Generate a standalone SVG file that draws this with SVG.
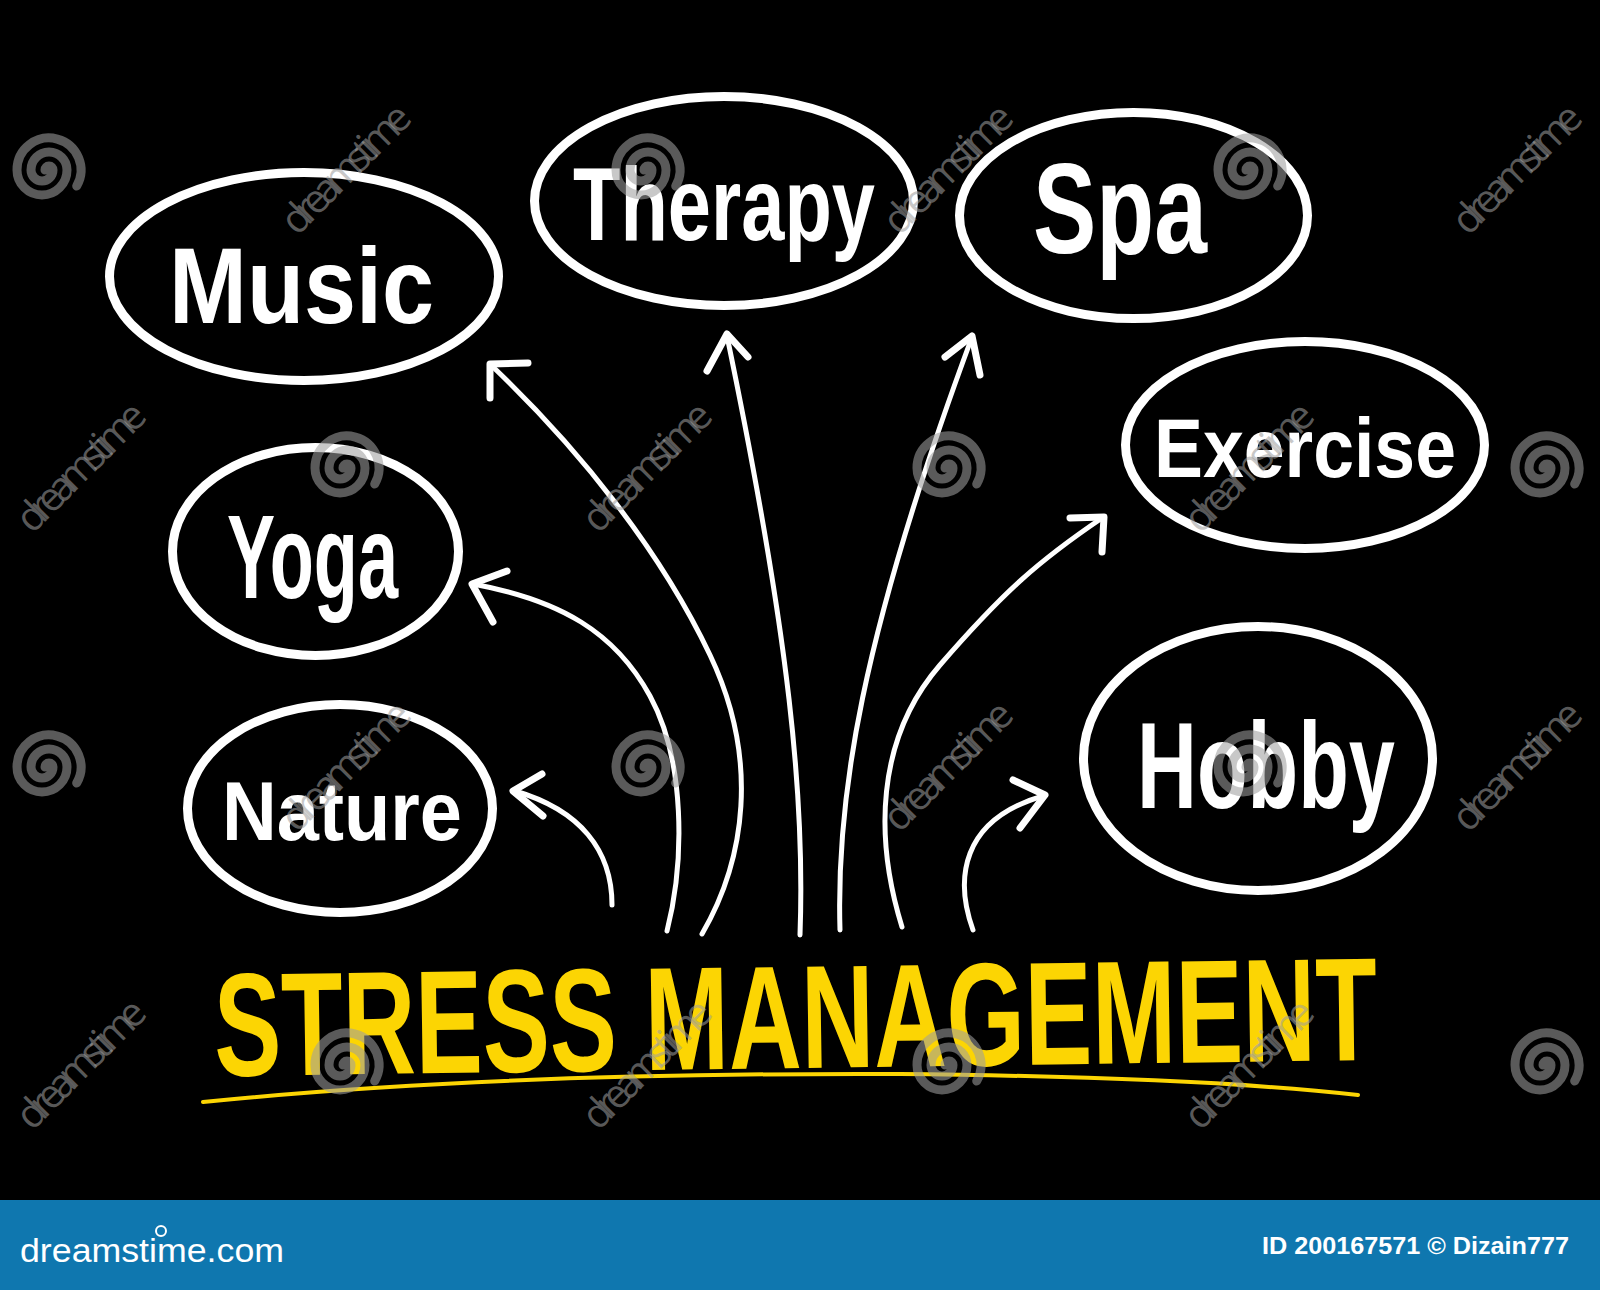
<svg xmlns="http://www.w3.org/2000/svg" xmlns:xlink="http://www.w3.org/1999/xlink" width="1600" height="1290" viewBox="0 0 1600 1290">
  <defs>
    <style>
      .oval { fill: none; stroke: #ffffff; stroke-width: 9; }
      .lbl { fill: #ffffff; font-family: "Liberation Sans", "DejaVu Sans", sans-serif; font-weight: 700; }
      .shaft { fill: none; stroke: #ffffff; stroke-width: 5; stroke-linecap: round; stroke-linejoin: round; }
      .head { fill: none; stroke: #ffffff; stroke-width: 7; stroke-linecap: round; stroke-linejoin: round; }
      .wm { fill: #9e9e9e; fill-opacity: 0.57; font-family: "Open Sans", "DejaVu Sans", sans-serif; font-size: 40px; }
      .wmsp { fill: none; stroke: #9e9e9e; stroke-opacity: 0.57; stroke-width: 9; stroke-linecap: round; }
      .title { fill: #fcd503; font-family: "Liberation Sans", "DejaVu Sans", sans-serif; font-weight: 700; }
      .foot { fill: #ffffff; font-family: "Liberation Sans", "DejaVu Sans", sans-serif; }
    </style>
    <symbol id="spiral" viewBox="-40 -40 80 80" overflow="visible">
      <path d="M 27.7 16 A 32 32 0 1 0 -32 0 A 25 25 0 0 0 18 0 A 18 18 0 0 0 -18 0 A 11 11 0 0 0 4 0 A 4 4 0 0 0 -4 0" />
    </symbol>
  </defs>

  <rect x="0" y="0" width="1600" height="1290" fill="#000000"/>

  <!-- nodes -->
  <g id="node-music">
    <ellipse class="oval" cx="304" cy="276.5" rx="194.5" ry="104"/>
    <text class="lbl" x="169" y="323" font-size="108" textLength="265" lengthAdjust="spacingAndGlyphs">Music</text>
  </g>
  <g id="node-therapy">
    <ellipse class="oval" cx="724" cy="201" rx="189.5" ry="104.5"/>
    <text class="lbl" x="573" y="240" font-size="104" textLength="302" lengthAdjust="spacingAndGlyphs">Therapy</text>
  </g>
  <g id="node-spa">
    <ellipse class="oval" cx="1133.5" cy="215.5" rx="174" ry="103"/>
    <text class="lbl" x="1033" y="253" font-size="128" textLength="174" lengthAdjust="spacingAndGlyphs">Spa</text>
  </g>
  <g id="node-exercise">
    <ellipse class="oval" cx="1305" cy="445" rx="179.5" ry="103.5"/>
    <text class="lbl" x="1154" y="477" font-size="84" textLength="302" lengthAdjust="spacingAndGlyphs">Exercise</text>
  </g>
  <g id="node-yoga">
    <ellipse class="oval" cx="315.5" cy="551.5" rx="143" ry="104"/>
    <text class="lbl" x="227" y="598" font-size="118" textLength="171" lengthAdjust="spacingAndGlyphs">Yoga</text>
  </g>
  <g id="node-nature">
    <ellipse class="oval" cx="340" cy="808.5" rx="152.5" ry="104"/>
    <text class="lbl" x="222" y="840" font-size="84" textLength="240" lengthAdjust="spacingAndGlyphs">Nature</text>
  </g>
  <g id="node-hobby">
    <ellipse class="oval" cx="1258" cy="758.5" rx="174.5" ry="132"/>
    <text class="lbl" x="1137" y="808" font-size="122" textLength="258" lengthAdjust="spacingAndGlyphs">Hobby</text>
  </g>

  <!-- connectors -->
  <g id="connectors">
    <path class="shaft" d="M 702 934 C 745 860, 760 760, 710 655 S 580 450, 492 366"/>
    <path class="head" d="M 528 363 L 490 364 L 490 398"/>
    <path class="shaft" d="M 800 935 C 805 800, 790 640, 727 336"/>
    <path class="head" d="M 707 371 L 727 334 L 748 357"/>
    <path class="shaft" d="M 840 930 C 836 800, 860 640, 972 337"/>
    <path class="head" d="M 945 357 L 972 336 L 980 375"/>
    <path class="shaft" d="M 667 931 C 685 860, 685 760, 650 696 S 560 600, 473 584"/>
    <path class="head" d="M 507 571 L 472 584 L 493 622"/>
    <path class="shaft" d="M 612 905 C 612 850, 580 810, 515 791"/>
    <path class="head" d="M 542 774 L 513 791 L 543 816"/>
    <path class="shaft" d="M 902 927 C 875 840, 875 740, 940 665 S 1040 560, 1102 518"/>
    <path class="head" d="M 1070 518 L 1104 517 L 1102 552"/>
    <path class="shaft" d="M 973 930 C 955 880, 960 820, 1043 796"/>
    <path class="head" d="M 1013 780 L 1045 795 L 1020 828"/>
  </g>

  <!-- title -->
  <g id="title">
    <text class="title" x="0" y="0" font-size="147" textLength="1699" lengthAdjust="spacingAndGlyphs" transform="rotate(-0.8 796 1010) translate(214 1068) scale(0.6845 1)">STRESS MANAGEMENT</text>
    <path d="M 203 1102 C 420 1080, 650 1073, 900 1074 C 1100 1076, 1260 1084, 1358 1095" fill="none" stroke="#fcd503" stroke-width="4" stroke-linecap="round"/>
  </g>

  <!-- watermark -->
  <g id="watermark">
    <g class="wmsp">
      <use xlink:href="#spiral" x="9" y="130" width="80" height="80"/>
      <use xlink:href="#spiral" x="608" y="130" width="80" height="80"/>
      <use xlink:href="#spiral" x="1210" y="130" width="80" height="80"/>
      <use xlink:href="#spiral" x="9" y="727" width="80" height="80"/>
      <use xlink:href="#spiral" x="608" y="727" width="80" height="80"/>
      <use xlink:href="#spiral" x="1210" y="727" width="80" height="80"/>
      <use xlink:href="#spiral" x="307" y="428" width="80" height="80"/>
      <use xlink:href="#spiral" x="909" y="428" width="80" height="80"/>
      <use xlink:href="#spiral" x="1507" y="428" width="80" height="80"/>
      <use xlink:href="#spiral" x="307" y="1025" width="80" height="80"/>
      <use xlink:href="#spiral" x="909" y="1025" width="80" height="80"/>
      <use xlink:href="#spiral" x="1507" y="1025" width="80" height="80"/>
    </g>
    <g class="wm" text-anchor="middle">
      <text x="347" y="182" textLength="165" transform="rotate(-45 347 170)">dreamstime</text>
      <text x="949" y="182" textLength="165" transform="rotate(-45 949 170)">dreamstime</text>
      <text x="1518" y="182" textLength="165" transform="rotate(-45 1518 170)">dreamstime</text>
      <text x="347" y="779" textLength="165" transform="rotate(-45 347 767)">dreamstime</text>
      <text x="949" y="779" textLength="165" transform="rotate(-45 949 767)">dreamstime</text>
      <text x="1518" y="779" textLength="165" transform="rotate(-45 1518 767)">dreamstime</text>
      <text x="82" y="480" textLength="165" transform="rotate(-45 82 468)">dreamstime</text>
      <text x="648" y="480" textLength="165" transform="rotate(-45 648 468)">dreamstime</text>
      <text x="1250" y="480" textLength="165" transform="rotate(-45 1250 468)">dreamstime</text>
      <text x="82" y="1077" textLength="165" transform="rotate(-45 82 1065)">dreamstime</text>
      <text x="648" y="1077" textLength="165" transform="rotate(-45 648 1065)">dreamstime</text>
      <text x="1250" y="1077" textLength="165" transform="rotate(-45 1250 1065)">dreamstime</text>
    </g>
  </g>

  <!-- footer bar -->
  <g id="footer">
    <rect x="0" y="1200" width="1600" height="90" fill="#0f77af"/>
    <circle cx="161" cy="1231" r="5" fill="none" stroke="#ffffff" stroke-width="2"/>
    <text class="foot" x="20" y="1262" font-size="34" textLength="264" lengthAdjust="spacingAndGlyphs">dreamstime.com</text>
    <text class="foot" x="1569" y="1254" font-size="24" font-weight="700" text-anchor="end" textLength="307" lengthAdjust="spacingAndGlyphs">ID 200167571 © Dizain777</text>
  </g>
</svg>
